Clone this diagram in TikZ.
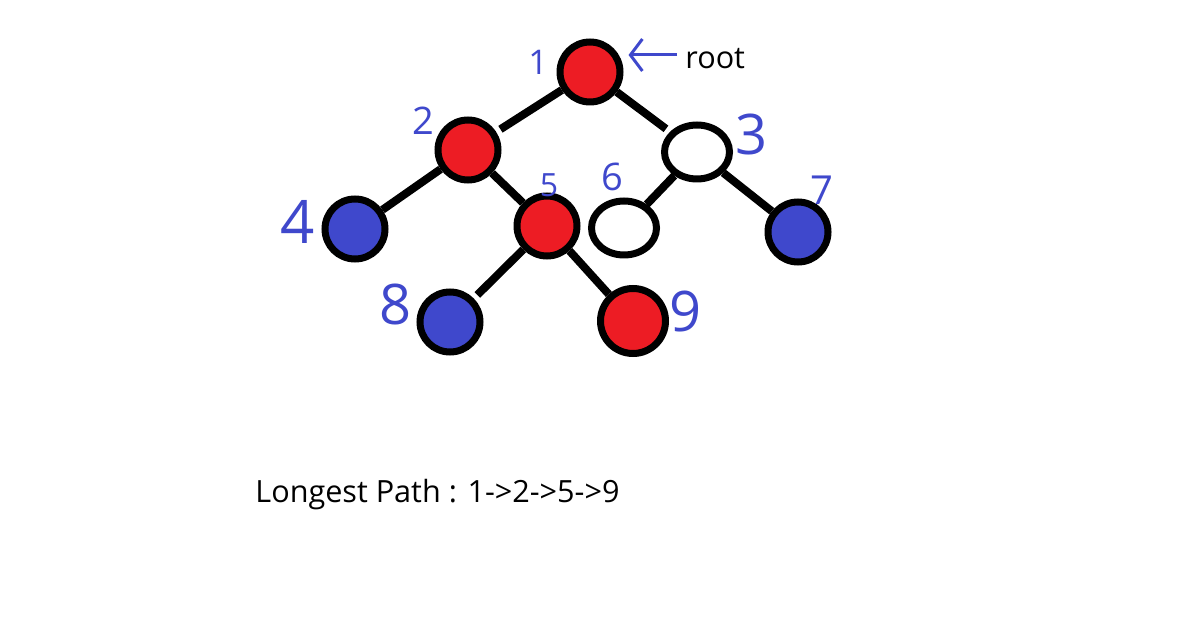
\documentclass[tikz,border=0pt]{standalone}
\usepackage{fontspec}
\setmainfont{Open Sans}
\usetikzlibrary{shapes.geometric,arrows.meta}
\definecolor{paintred}{HTML}{ED1C24}
\definecolor{paintblue}{HTML}{3F48CC}

\begin{document}
\begin{tikzpicture}[x=0.5pt,y=-0.5pt,
    basenode/.style={circle,draw=black,line width=3.5pt,minimum size=30pt,inner sep=0pt},
    rednode/.style={basenode,fill=paintred},
    bluenode/.style={basenode,fill=paintblue},
    nilnode/.style={ellipse,draw=black,line width=3.5pt,fill=white,minimum width=32.5pt,minimum height=27pt,inner sep=0pt},
    treeline/.style={line width=4pt},
    numlbl/.style={text=paintblue,inner sep=0pt,font=\fontsize{#1}{#1}\selectfont},
    numlbl/.default=19pt,
    plaintext/.style={anchor=base west,inner sep=0pt,font=\fontsize{15.3pt}{18pt}\selectfont}]

    \useasboundingbox (0,0) rectangle (1200,630);

    % tree
    \node[rednode] (n1) at (590,72) {};
    \node[rednode] (n2) at (468,150) {};
    \node[nilnode] (n3) at (697,152) {};
    \node[bluenode] (n4) at (355,229) {};
    \node[rednode] (n5) at (547,226) {};
    \node[nilnode] (n6) at (624,228) {};
    \node[bluenode] (n7) at (798,232) {};
    \node[bluenode] (n8) at (450,322) {};
    \node[rednode,minimum size=32.5pt] (n9) at (633,321) {};

    \draw[treeline,shorten >=2.5pt] (n1) -- (n2);
    \draw[treeline,shorten >=2.5pt] (n1) -- (n3);
    \draw[treeline] (n2) -- (n4);
    \draw[treeline] (n2) -- (n5);
    \draw[treeline] (n3) -- (n6);
    \draw[treeline] (n3) -- (n7);
    \draw[treeline,shorten >=2.5pt] (n5) -- (n8);
    \draw[treeline] (n5) -- (n9);

    % numbers
    \node[numlbl=17pt] (l1) at (538,62) {1};
    \node[numlbl] (l2) at (423,121) {2};
    \node[numlbl=28pt] (l3) at (752,135) {3};
    \node[numlbl=30pt] (l4) at (298,222) {4};
    \node[numlbl=16pt] (l5) at (549,185) {5};
    \node[numlbl] (l6) at (612,177) {6};
    \node[numlbl=20pt] (l7) at (822,190) {7};
    \node[numlbl=28pt] (l8) at (396,305) {8};
    \node[numlbl=28pt] (l9) at (686,312) {9};

    % root pointer
    \node[plaintext] (rt) at (685,69) {root};
    \coordinate (rtarr) at (677,55);
    \draw[paintblue,line width=1.5pt,-{Straight Barb[length=6pt,width=16pt]},shorten >=2.5pt] (rtarr) -- (n1.east |- rtarr);

    \node[plaintext] (lp) at (255,503) {Longest Path : 1->2->5->9};
\end{tikzpicture}
\end{document}
